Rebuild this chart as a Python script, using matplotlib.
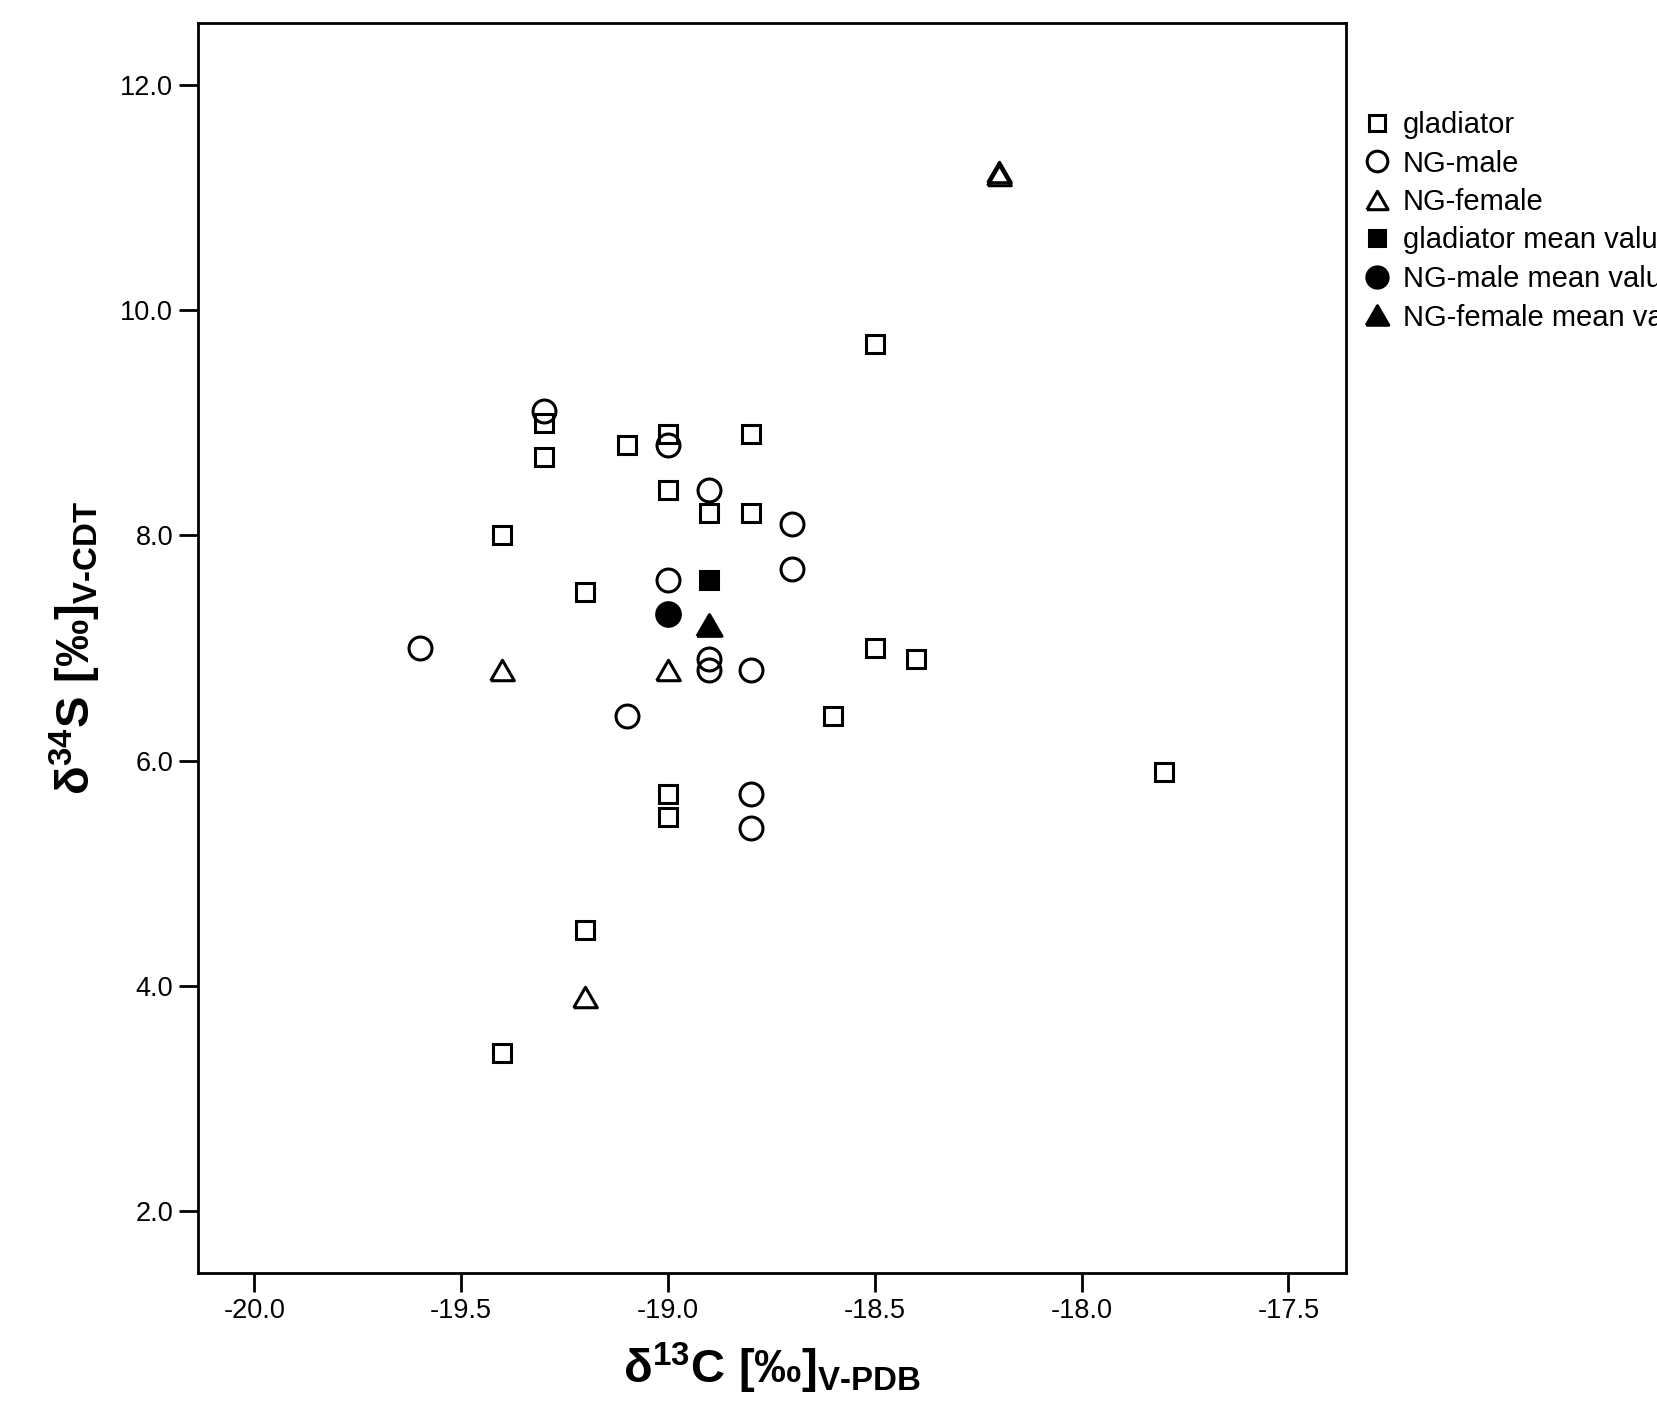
import matplotlib
matplotlib.use('Agg')
import matplotlib.pyplot as plt
from matplotlib.ticker import FormatStrFormatter

plt.rcParams['font.family'] = ['Liberation Sans', 'DejaVu Sans']
plt.rcParams['axes.unicode_minus'] = False
plt.rcParams['mathtext.fontset'] = 'custom'
plt.rcParams['mathtext.rm'] = 'Liberation Sans:bold'
plt.rcParams['mathtext.bf'] = 'Liberation Sans:bold'
plt.rcParams['mathtext.it'] = 'Liberation Sans:bold'

# d13C / d34S values
glad_c = [-19.3, -19.3, -19.1, -19.0, -18.8, -19.0, -18.9, -18.8, -19.4, -19.2,
          -18.6, -18.5, -18.5, -18.4, -17.8, -19.0, -19.0, -19.2, -19.4]
glad_s = [9.0, 8.7, 8.8, 8.9, 8.9, 8.4, 8.2, 8.2, 8.0, 7.5,
          6.4, 9.7, 7.0, 6.9, 5.9, 5.7, 5.5, 4.5, 3.4]

male_c = [-19.3, -19.0, -18.9, -18.7, -18.7, -19.0, -18.9, -18.9, -18.8, -19.1,
          -19.6, -18.8, -18.8]
male_s = [9.1, 8.8, 8.4, 8.1, 7.7, 7.6, 6.9, 6.8, 6.8, 6.4,
          7.0, 5.7, 5.4]

female_c = [-19.4, -19.0, -19.2, -18.2, -18.2]
female_s = [6.8, 6.8, 3.9, 11.2, 11.23]

mean_c = [-18.9, -19.0, -18.9]   # gladiator, NG-male, NG-female
mean_s = [7.6, 7.3, 7.2]

labels = ['gladiator', 'NG-male', 'NG-female',
          'gladiator mean value', 'NG-male mean value', 'NG-female mean value']

tri = [(-1, -0.866), (1, -0.866), (0, 0.866), (-1, -0.866)]

fig = plt.figure(figsize=(16.57, 14.16), dpi=100)
ax = fig.add_axes([0.1195, 0.101, 0.6927, 0.8828])

ew = 2.2
h1, = ax.plot(glad_c, glad_s, ls='none', marker='s', ms=12.5, mfc='none', mec='black', mew=ew)
h2, = ax.plot(male_c, male_s, ls='none', marker='o', ms=16.5, mfc='none', mec='black', mew=ew)
h3, = ax.plot(female_c, female_s, ls='none', marker=tri, ms=17, mfc='none', mec='black', mew=ew)
h4, = ax.plot(mean_c[0], mean_s[0], ls='none', marker='s', ms=13, mfc='black', mec='black', mew=ew)
h5, = ax.plot(mean_c[1], mean_s[1], ls='none', marker='o', ms=17, mfc='black', mec='black', mew=ew)
h6, = ax.plot(mean_c[2], mean_s[2], ls='none', marker=tri, ms=18, mfc='black', mec='black', mew=ew)

ax.set_xlim(-20.136, -17.361)
ax.set_ylim(1.45, 12.55)
ax.set_xticks([-20.0, -19.5, -19.0, -18.5, -18.0, -17.5])
ax.set_yticks([2.0, 4.0, 6.0, 8.0, 10.0, 12.0])
ax.xaxis.set_major_formatter(FormatStrFormatter('%.1f'))
ax.yaxis.set_major_formatter(FormatStrFormatter('%.1f'))
ax.tick_params(length=14, width=2, labelsize=19.5, pad=4, color='black')
for sp in ax.spines.values():
    sp.set_linewidth(2)

ax.set_xlabel(r'$\mathbf{δ^{13}C\ [‰]_{V\text{-}PDB}}$', fontsize=34, labelpad=12)
ax.set_ylabel(r'$\mathbf{δ^{34}S\ [‰]_{V\text{-}CDT}}$', fontsize=34, labelpad=12)

# legend sits outside the axes and runs off the right edge, as in the original
fig.legend([h1, h2, h3, h4, h5, h6], labels, loc='upper left',
           bbox_to_anchor=(0.8225, 1 - 111 / 1416), frameon=False, fontsize=21,
           handlelength=0.95, handletextpad=0.42, borderpad=0, borderaxespad=0,
           labelspacing=0.36, markerscale=0.9)

plt.savefig('out.png', dpi=100)
